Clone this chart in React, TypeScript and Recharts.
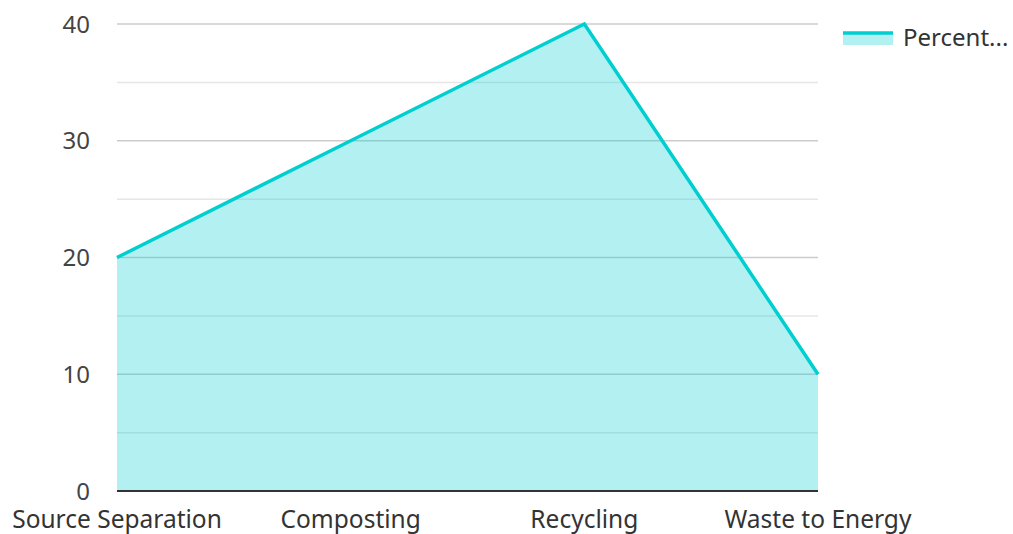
import React from 'react'
import { AreaChart, Area, CartesianGrid, XAxis, YAxis } from 'recharts'

const categories = ['Source Separation', 'Composting', 'Recycling', 'Waste to Energy']
const percents = [20, 30, 40, 10]
const majorTicks = [0, 10, 20, 30, 40]
const minorTicks = [5, 15, 25, 35]

const data = categories.map((name, i) => ({ name, percent: percents[i] }))

const FONT = '"Noto Sans", "Open Sans", sans-serif'
const TEAL = '#00ced1'

const LegendSwatch = () => (
    <div style={{ position: 'absolute', left: 843, top: 20, display: 'flex', alignItems: 'center', fontFamily: FONT, fontSize: 24, color: '#333' }}>
        <svg width={50} height={20} style={{ marginRight: 10 }}>
            <rect x={0} y={6} width={50} height={12} fill={TEAL} fillOpacity={0.3} />
            <line x1={0} y1={6} x2={50} y2={6} stroke={TEAL} strokeWidth={3.5} />
        </svg>
        <span>Percent...</span>
    </div>
)

export default function App() {
    return (
        <div style={{ position: 'absolute', left: 0, top: 0, width: 1013, height: 534, background: '#fff' }}>
            <AreaChart width={1013} height={534} data={data} margin={{ top: 24, right: 195, bottom: 0, left: 0 }}>
                <CartesianGrid horizontalValues={minorTicks} vertical={false} stroke="#e6e6e6" strokeWidth={1.5} />
                <CartesianGrid vertical={false} stroke="#cccccc" strokeWidth={1.5} />
                <XAxis
                    dataKey="name"
                    height={43}
                    tickLine={false}
                    axisLine={{ stroke: '#333', strokeWidth: 2 }}
                    tick={{ fill: '#333', fontSize: 24.5, fontFamily: FONT }}
                    tickMargin={14}
                    interval={0}
                />
                <YAxis
                    width={117}
                    domain={[0, 40]}
                    ticks={majorTicks}
                    tickLine={false}
                    axisLine={false}
                    tick={{ fill: '#444', fontSize: 24, fontFamily: FONT }}
                    tickMargin={21}
                />
                <Area
                    type="linear"
                    dataKey="percent"
                    stroke={TEAL}
                    strokeWidth={3.5}
                    fill={TEAL}
                    fillOpacity={0.3}
                    dot={false}
                    activeDot={false}
                    isAnimationActive={false}
                />
            </AreaChart>
            <LegendSwatch />
        </div>
    )
}
